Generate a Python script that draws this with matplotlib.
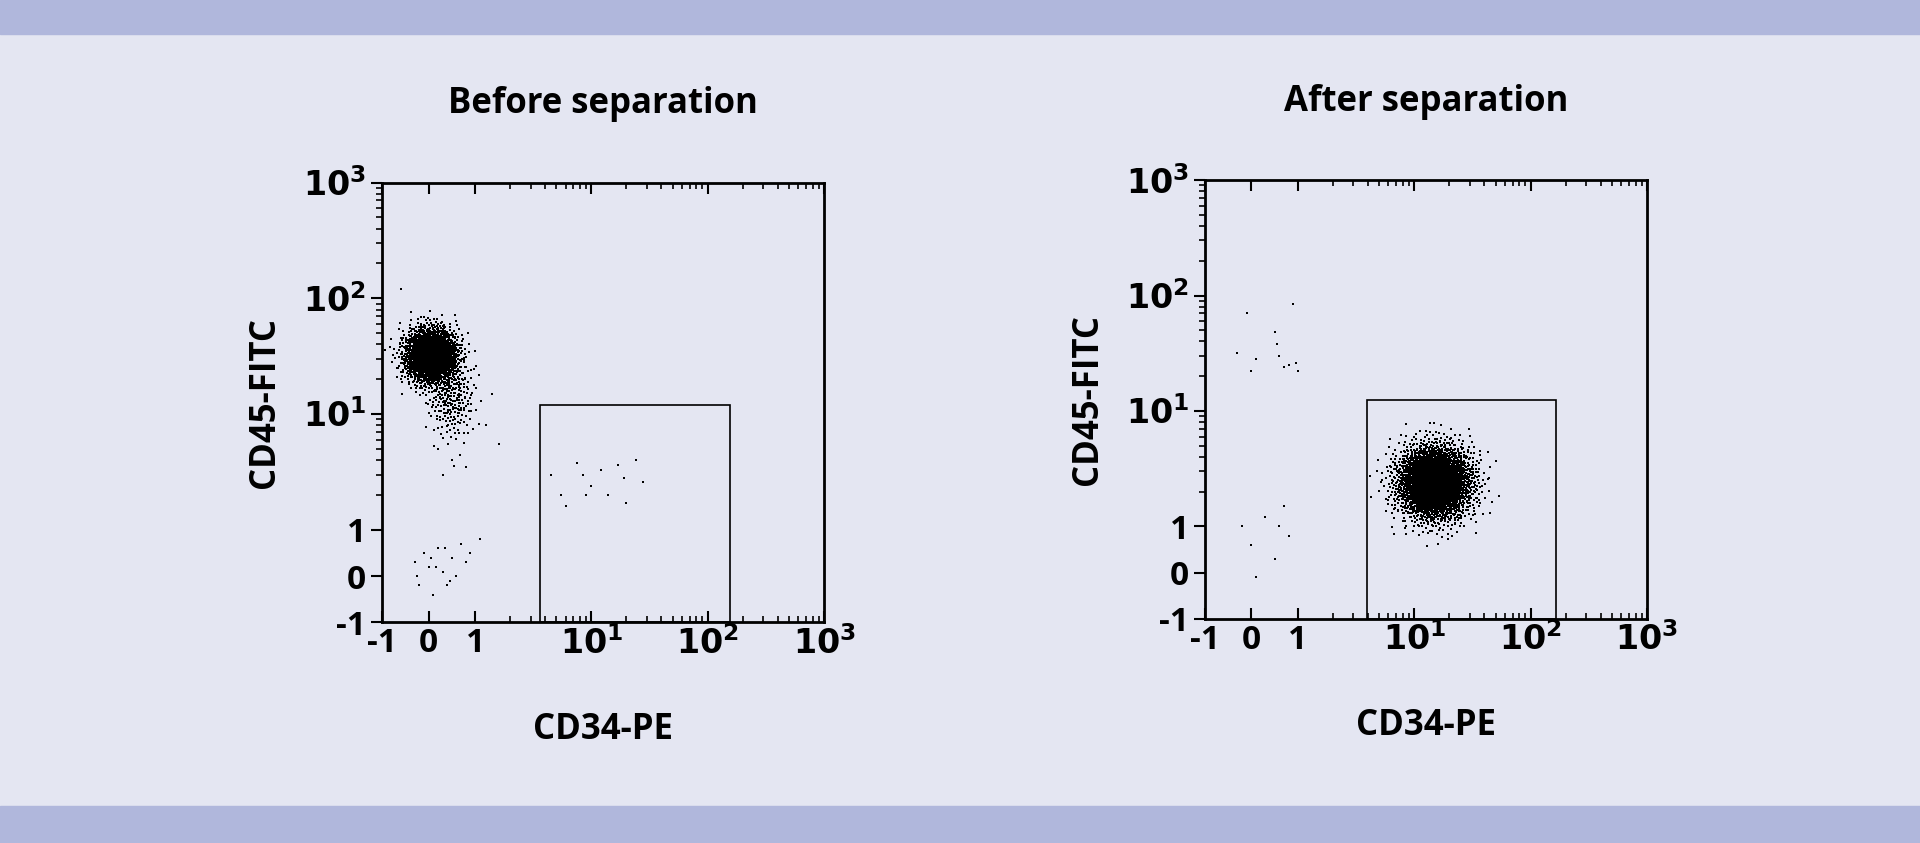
import numpy as np
import matplotlib
matplotlib.use("Agg")
import matplotlib.pyplot as plt
from matplotlib.patches import Rectangle

plt.rcParams['font.family'] = ['Open Sans', 'DejaVu Sans']
plt.rcParams['font.weight'] = 'bold'

titles = ["Before separation", "After separation"]
xlabel = "CD34-PE"
ylabel = "CD45-FITC"
tick_vals = [-1, 0, 1, 10, 100, 1000]
tick_labels = ["-1", "0", "1", "$\\mathbf{10^1}$", "$\\mathbf{10^2}$", "$\\mathbf{10^3}$"]

# gates: (x0, x1, ytop) in data units
gates = [(3.6, 155, 12.0), (3.9, 166, 12.5)]

# dense clusters: (x centre, y centre, n points, x spread, y spread) in display units
clusters = [
    [(0.05, 32, 2000, 0.28, 0.3), (0.5, 14, 250, 0.25, 0.45)],
    [(15, 2.4, 3000, 0.4, 0.4)],
]

# sparse events
left_x = [4.5, 6, 7.5, 9, 10, 12, 14, 17, 20, 24, 28, 5.5, 8.5, 19,
          -0.3, -0.2, -0.1, 0.0, 0.1, 0.2, 0.3, 0.4, 0.5, 0.6, 0.7, 0.8, 0.9, 1.1, -0.25, 0.15, 0.45, 0.05, 0.35,
          -0.6, 1.4, 1.25, 0.5, 0.2, 0.8, 1.6, 0.3]
left_y = [3.0, 1.6, 3.8, 2.0, 2.4, 3.3, 2.0, 3.6, 1.7, 4.0, 2.6, 2.0, 3.0, 2.8,
          0.3, -0.2, 0.5, 0.2, -0.4, 0.6, 0.1, -0.2, 0.4, 0.0, 0.7, 0.3, 0.5, 0.8, 0.0, 0.2, -0.1, 0.4, 0.6,
          120, 15, 8, 4, 5, 3.5, 5.5, 3.0]
right_x = [-0.3, -0.1, 0.0, 0.1, 0.5, 0.6, 0.8, 0.9, 1.0, 0.55, 0.7, 0.95,
           -0.2, 0.0, 0.1, 0.5, 0.7, 0.8, 0.3, 0.6]
right_y = [32, 70, 22, 28, 48, 30, 25, 85, 22, 38, 24, 26,
           1.0, 0.6, -0.1, 0.3, 1.5, 0.8, 1.2, 1.0]
sparse = [(left_x, left_y), (right_x, right_y)]


def fwd(v):
    v = np.asarray(v, float)
    return np.where(v <= 1, v + 1, 2 + 2.5 * np.log10(np.maximum(v, 1e-9)))


def halton(n, base):
    out = np.zeros(n)
    for i in range(n):
        f, r, k = 1.0, 0.0, i + 1
        while k > 0:
            f /= base
            r += f * (k % base)
            k //= base
        out[i] = r
    return out


def cloud(cx, cy, n, sx, sy):
    u1 = np.clip(halton(n, 2), 0.002, 1)
    u2 = halton(n, 3)
    r = np.sqrt(-2 * np.log(u1))
    tx = fwd(cx) + sx * r * np.cos(2 * np.pi * u2)
    ty = fwd(cy) + sy * r * np.sin(2 * np.pi * u2)
    return tx, ty


W, H = 1568, 688
fig = plt.figure(figsize=(19.2, 8.43), dpi=100)
fig.patch.set_facecolor('#e4e6f2')
fig.add_artist(Rectangle((0, 1 - 28 / H), 1, 28 / H, transform=fig.transFigure, color='#b0b7dc'))
fig.add_artist(Rectangle((0, 0), 1, 30 / H, transform=fig.transFigure, color='#b0b7dc'))

boxes = [(312, 149, 673, 508), (984, 147, 1345, 505)]
tmax = float(fwd(1000))
minor = [m * 10 ** d for d in range(0, 3) for m in range(2, 10)]
for i, (x0, y0, x1, y1) in enumerate(boxes):
    ax = fig.add_axes([x0 / W, 1 - y1 / H, (x1 - x0) / W, (y1 - y0) / H])
    ax.set_facecolor('#e4e6f2')
    ax.set_xlim(0, tmax)
    ax.set_ylim(0, tmax)
    for (cx, cy, n, sx, sy) in clusters[i]:
        tx, ty = cloud(cx, cy, n, sx, sy)
        ax.scatter(tx, ty, s=1.5, c='black', marker='s', linewidths=0)
    sx_, sy_ = sparse[i]
    ax.scatter(fwd(sx_), fwd(sy_), s=1.5, c='black', marker='s', linewidths=0)
    gx0, gx1, gy = gates[i]
    ax.add_patch(Rectangle((fwd(gx0), 0), fwd(gx1) - fwd(gx0), fwd(gy),
                           fill=False, ec='black', lw=1.2))
    for axis in (ax.xaxis, ax.yaxis):
        axis.set_ticks(fwd(tick_vals))
        axis.set_ticklabels(tick_labels)
        axis.set_ticks(fwd(minor), minor=True)
    ax.tick_params(which='major', length=8, width=1.5, labelsize=24, direction='out')
    ax.tick_params(which='minor', length=4, width=1.2, direction='out')
    ax.tick_params(axis='x', which='both', top=True, direction='in')
    ax.tick_params(axis='x', which='both', bottom=True)
    for s in ax.spines.values():
        s.set_linewidth(2)
    ax.set_title(titles[i], fontsize=25, fontweight='bold', pad=50)
    ax.set_xlabel(xlabel, fontsize=25, fontweight='bold', labelpad=36)
    ax.set_ylabel(ylabel, fontsize=25, fontweight='bold', labelpad=14)
    for lab in ax.get_xticklabels() + ax.get_yticklabels():
        lab.set_fontweight('bold')

fig.savefig('out.png', dpi=100, facecolor=fig.get_facecolor())
